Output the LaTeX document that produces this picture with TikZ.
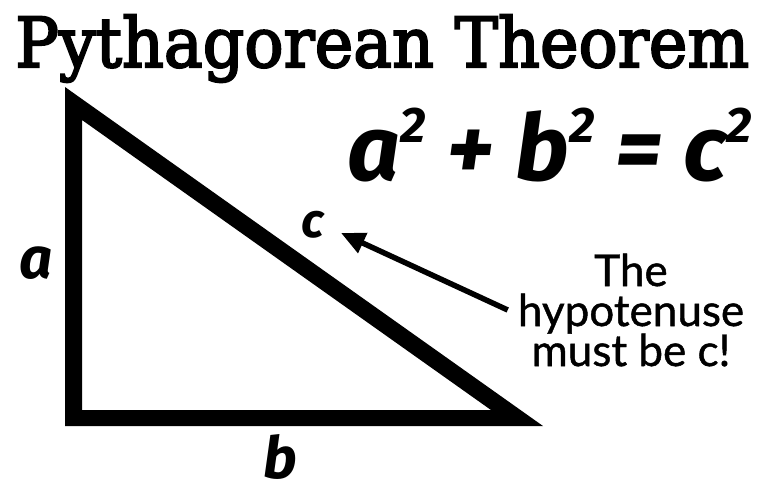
\documentclass[tikz,border=0pt]{standalone}
\usepackage{fontspec}
\usepackage{graphicx}
\usetikzlibrary{arrows.meta}
\newfontfamily\slabfont[FakeBold=3]{DejaVu Serif}
\newfontfamily\handfont{Fira Sans}
\newfontfamily\notefont[FakeBold=1.0]{Lato}
\newcommand*{\hand}[1]{\fontsize{#1}{#1}\selectfont\handfont\bfseries\itshape}
\newcommand*{\sq}[1]{\raisebox{38pt}{\fontsize{50}{50}\selectfont #1}}
\tikzstyle{leglabel}=[inner sep=0pt, font=\hand{58}]
\tikzstyle{pointer}=[line width=5.5pt, -{Triangle[length=24pt,width=21pt]}]

\begin{document}
\begin{tikzpicture}[x=1pt, y=-1pt]
	\useasboundingbox (0,0) rectangle (768,488);
	% the triangle, outer and inner edge
	\coordinate (top) at (65,87);
	\coordinate (corner) at (65,426);
	\coordinate (tip) at (543,426);
	\fill[even odd rule, black] (top) -- (corner) -- (tip) -- cycle
		(82,120) -- (82,410) -- (491,410) -- cycle;
	\node (title) at (15,67) [
	anchor    = base west,
	inner sep = 0pt,
	font      = \fontsize{69}{69}\selectfont\slabfont
	]{
		\resizebox{734pt}{\height}{Pythagorean Theorem}
	};
	\node (formula) at (347,180) [
	anchor    = base west,
	inner sep = 0pt,
	font      = \hand{92}
	]{
		\resizebox{405pt}{\height}{a\sq{2} + b\sq{2} = c\sq{2}}
	};
	\node (sidea) at (36,263) [leglabel] {a};
	\node (sideb) at (280,457) [leglabel] {b};
	\node (sidec) at (313,225) [leglabel, font=\hand{48}] {c};
	\node (note) at (631,310) [
	inner sep = 0pt,
	align     = center,
	font      = \fontsize{44}{40}\selectfont\notefont
	]{
		The\\ hypotenuse\\ must be c!
	};
	\coordinate (arrowend) at (341,233);
	\draw[pointer] ([xshift=-10pt]note.west) -- (arrowend);
\end{tikzpicture}
\end{document}
